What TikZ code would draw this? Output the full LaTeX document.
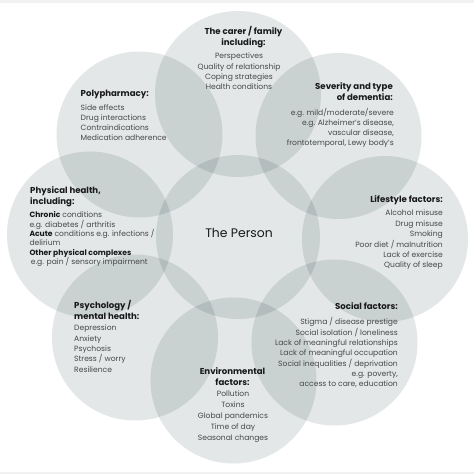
\documentclass[tikz,border=0pt]{standalone}
\usepackage{fontspec}
\setmainfont{Poppins}
\definecolor{bubble}{RGB}{227,231,231}
\definecolor{band}{RGB}{241,241,241}
\definecolor{bodytext}{RGB}{72,72,72}
\definecolor{headtext}{RGB}{25,25,25}
\tikzset{
  bub/.style={circle,fill=bubble,inner sep=0pt,minimum size=166pt},
  headtxt/.style={inner sep=0pt,text=headtext,font=\fontsize{8.6}{11}\selectfont\bfseries},
  bodytxt/.style={inner sep=0pt,text=bodytext,font=\fontsize{7.6}{10.3}\selectfont},
}
\begin{document}
\begin{tikzpicture}[x=1pt,y=-1pt]
\useasboundingbox (0,0) rectangle (474,474);
\fill[white] (0,0) rectangle (474,474);
\fill[band] (0,0) rectangle (474,2.5);
\fill[band] (0,471.5) rectangle (474,474);
\begin{scope}[blend mode=multiply]
\node[bub] (ctop) at (238,94) {};
\node[bub] (csev) at (338.5,136) {};
\node[bub] (clife) at (385,239) {};
\node[bub] (csoc) at (334.5,342.5) {};
\node[bub] (cenv) at (233.5,380.5) {};
\node[bub] (cpsy) at (135,337.5) {};
\node[bub] (cphys) at (90,234.5) {};
\node[bub] (cpoly) at (139.5,134.5) {};
\node[bub,minimum size=164pt] (cmid) at (238,237) {};
\end{scope}
% centre
\node[inner sep=0pt,text=headtext,font=\fontsize{12.4}{14}\selectfont] (person) at (239,233) {The Person};
% top
\node[headtxt,align=center,anchor=north] (carerH) at (243.5,26.5) {The carer / family\\including:};
\node[bodytxt,align=center,anchor=north] (carerB) at (239,53) {Perspectives\\Quality of relationship\\Coping strategies\\Health conditions};
% severity
\node[headtxt,align=right,anchor=north east] (sevH) at (393,82.5) {Severity and type\\of dementia:};
\node[bodytxt,align=right,anchor=north east,font=\fontsize{7.6}{10}\selectfont] (sevB) at (394,108.5) {e.g. mild/moderate/severe\\e.g. Alzheimer's disease,\\vascular disease,\\frontotemporal, Lewy body's};
% polypharmacy
\node[headtxt,align=left,anchor=north west] (polyH) at (80.5,89.5) {Polypharmacy:};
\node[bodytxt,align=left,anchor=north west] (polyB) at (80.5,104) {Side effects\\Drug interactions\\Contraindications\\Medication adherence};
% physical
\node[headtxt,align=left,anchor=north west] (physH) at (30,186.5) {Physical health,\\including:};
\node[bodytxt,align=left,anchor=north west,font=\fontsize{7.6}{9.4}\selectfont] (physB) at (29.3,211.5) {{\color{headtext}\bfseries Chronic} conditions\\e.g. diabetes / arthritis\\{\color{headtext}\bfseries Acute} conditions e.g. infections /\\delirium\\{\color{headtext}\bfseries Other physical complexes}\\\hspace{1.4pt}e.g. pain / sensory impairment};
% lifestyle
\node[headtxt,align=right,anchor=north east] (lifeH) at (443,195.5) {Lifestyle factors:};
\node[bodytxt,align=right,anchor=north east,font=\fontsize{7.6}{10.4}\selectfont] (lifeB) at (443,210) {Alcohol misuse\\Drug misuse\\Smoking\\Poor diet / malnutrition\\Lack of exercise\\Quality of sleep};
% psychology
\node[headtxt,align=left,anchor=north west,font=\fontsize{8.6}{10.5}\selectfont\bfseries] (psyH) at (74,300.5) {Psychology /\\mental health:};
\node[bodytxt,align=left,anchor=north west] (psyB) at (74,325) {Depression\\Anxiety\\Psychosis\\Stress / worry\\Resilience};
% social
\node[headtxt,align=right,anchor=north east] (socH) at (398,302) {Social factors:};
\node[bodytxt,align=right,anchor=north east] (socB) at (398,317.5) {Stigma / disease prestige\\Social isolation / loneliness\\Lack of meaningful relationships\\Lack of meaningful occupation\\Social inequalities / deprivation\\e.g. poverty,\\access to care, education};
% environmental
\node[headtxt,align=center,anchor=north,font=\fontsize{8.6}{10.5}\selectfont\bfseries] (envH) at (232.5,367.5) {Environmental\\factors:};
\node[bodytxt,align=center,anchor=north,font=\fontsize{7.6}{11}\selectfont] (envB) at (233,390.5) {Pollution\\Toxins\\Global pandemics\\Time of day\\Seasonal changes};
\end{tikzpicture}
\end{document}
